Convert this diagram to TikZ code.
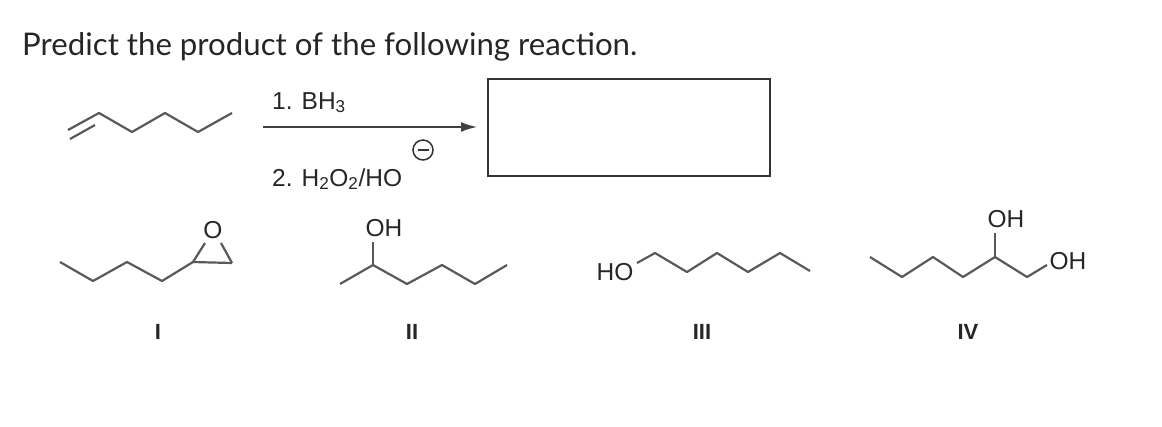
\documentclass[tikz,border=0pt]{standalone}
\usepackage{fontspec}
\usetikzlibrary{arrows.meta}
\setmainfont{Liberation Sans}
\newfontfamily\titlefont{Lato}
\begin{document}
\begin{tikzpicture}[x=1pt,y=-1pt,
  bond/.style={draw=black!65,line width=2.2pt,line join=round},
  atom/.style={inner sep=0pt,font=\fontsize{24.5}{24.5}\selectfont,text=black!85},
  lab/.style={inner sep=0pt,font=\bfseries\fontsize{22}{22}\selectfont,text=black!85}]
\useasboundingbox (0,0) rectangle (1162,426);
\node[anchor=base west,inner sep=0pt,font=\titlefont\fontsize{31.2}{31.2}\selectfont,text=black!85] (title) at (22,55) {Predict the product of the following reaction.};
% starting material
\draw[bond] (68,130)--(99,113)--(132,132)--(165,113)--(198,132)--(232,113);
\draw[bond] (70,139)--(95,125);
% arrow
\coordinate (a1) at (263,127);
\coordinate (a2) at (477,127);
\draw[black!75,line width=1.8pt,-{Latex[length=16pt,width=10pt]}] (a1)--(a2);
\node[atom,anchor=base west] (r1) at (272,109) {1. BH\textsubscript{3}};
\node[atom,anchor=base west] (r2) at (272,186) {2. H\textsubscript{2}O\textsubscript{2}/HO};
\node[draw=black!80,circle,line width=1.5pt,minimum size=20pt,inner sep=0pt] (minus) at (423,150) {};
\draw[black!80,line width=1.8pt] ([xshift=-5.5pt]minus.center)--([xshift=5.5pt]minus.center);
% box
\node[draw=black!80,line width=1.6pt,minimum width=282pt,minimum height=97pt,inner sep=0pt,anchor=north west] (box) at (487,78) {};
% I
\node[atom] (O1) at (213,230) {O};
\draw[bond] (60,262)--(93,281)--(127,262)--(162,281)--(193,262)--(232,263);
\draw[bond] (193,262)--(205,243);
\draw[bond] (232,263)--(221,243);
\node[lab] (L1) at (158,332) {I};
% II
\draw[bond] (340,284)--(373,265)--(407,284)--(442,265)--(475,284)--(507,265);
\draw[bond] (373,265)--(373,242);
\node[atom] (OH2) at (384,228) {OH};
\node[lab] (L2) at (412,332) {II};
% III
\node[atom] (HO3) at (615,272) {HO};
\draw[bond] (637,263)--(655,253)--(687,272)--(717,253)--(748,272)--(780,253)--(810,271);
\node[lab] (L3) at (702,332) {III};
% IV
\draw[bond] (870,257)--(902,277)--(933,257)--(963,277)--(995,257)--(1027,277)--(1047,265);
\draw[bond] (995,257)--(995,233);
\node[atom] (OH4a) at (1006,219) {OH};
\node[atom] (OH4b) at (1068,261) {OH};
\node[lab] (L4) at (968,332) {IV};
\end{tikzpicture}
\end{document}
